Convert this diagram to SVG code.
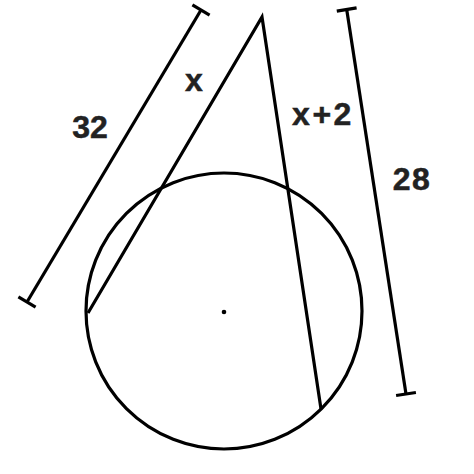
<svg xmlns="http://www.w3.org/2000/svg" width="474" height="474" viewBox="0 0 474 474">
<style>
.ln{stroke:#000;stroke-width:3.2;fill:none;stroke-linecap:butt}
.lb{font-family:"Liberation Sans",Arial,sans-serif;font-weight:bold;font-size:32px;fill:#222;stroke:#222;stroke-width:0.5;text-anchor:middle}
</style>
<rect width="474" height="474" fill="#fff"/>
<g id="circle">
<circle class="ln" cx="224" cy="311" r="138"/>
<circle cx="224" cy="312" r="2.3" fill="#000"/>
</g>
<g id="connectors">
<polyline class="ln" points="88,313 262,17 321,409"/>
<line class="ln" x1="201" y1="10" x2="27" y2="302"/>
<line class="ln" x1="192.4" y1="4.9" x2="209.6" y2="15.1"/>
<line class="ln" x1="18.4" y1="296.9" x2="35.6" y2="307.1"/>
<line class="ln" x1="346.7" y1="9.5" x2="406" y2="394"/>
<line class="ln" x1="336.8" y1="11.2" x2="356.6" y2="7.8"/>
<line class="ln" x1="396.1" y1="395.5" x2="415.9" y2="392.5"/>
</g>
<g id="labels">
<text class="lb" x="90" y="138">32</text>
<text class="lb" x="194" y="91">x</text>
<text class="lb" x="323" y="125" letter-spacing="2.5">x+2</text>
<text class="lb" x="412" y="190" letter-spacing="1.5">28</text>
</g>
</svg>
